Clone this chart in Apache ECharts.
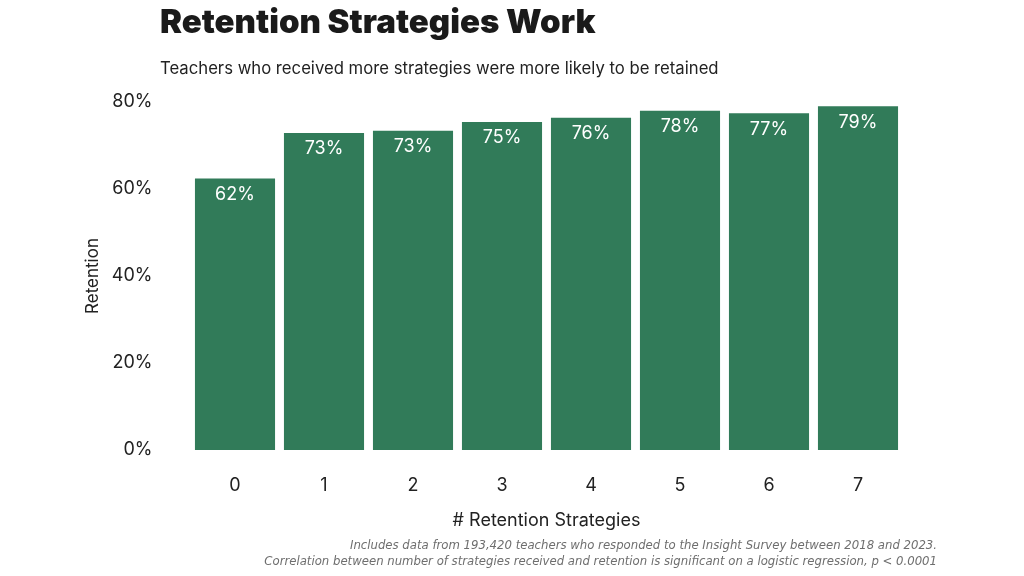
<!DOCTYPE html>
<html><head><meta charset="utf-8">
<script src="https://cdn.jsdelivr.net/npm/echarts@6/dist/echarts.min.js"></script>
<style>html,body{margin:0;padding:0;background:#fff}#c{width:1024px;height:576px}</style>
</head><body><div id="c"></div>
<script>
const categories = ['0','1','2','3','4','5','6','7'];
const retention = [62.4, 72.9, 73.4, 75.4, 76.4, 78.0, 77.4, 79.0];
const yTicks = [0, 20, 40, 60, 80];
const titleText = 'Retention Strategies Work';
const subtitleText = 'Teachers who received more strategies were more likely to be retained';
const noteLines = ['Includes data from 193,420 teachers who responded to the Insight Survey between 2018 and 2023.',
  'Correlation between number of strategies received and retention is significant on a logistic regression, p < 0.0001'];

const noteFont = 'italic 400 13px "Liberation Sans Narrow", "DejaVu Sans Condensed", sans-serif';
const chart = echarts.init(document.getElementById('c'));
chart.setOption({
  animation: false,
  backgroundColor: '#fff',
  title: [{
    text: titleText, left: 155, top: 2,
    textStyle: {fontFamily: 'Inter', fontWeight: 900, fontSize: 33, color: '#1a1a1a'}
  }, {
    text: subtitleText, left: 155, top: 55,
    textStyle: {fontFamily: 'Inter', fontWeight: 400, fontSize: 16.7, color: '#222'}
  }],
  graphic: noteLines.map((t, i) => ({
    type: 'text', right: 87, top: 539 + i * 16,
    style: {text: t, font: noteFont, fill: '#6e6e6e'}
  })),
  grid: {left: 190.5, right: 121.5, top: 102, bottom: 126, containLabel: false},
  xAxis: {
    type: 'category', data: categories,
    axisLine: {show: false}, axisTick: {show: false},
    axisLabel: {fontFamily: 'Inter', fontSize: 18, color: '#222', margin: 27},
    name: '# Retention Strategies', nameLocation: 'middle', nameGap: 62,
    nameTextStyle: {fontFamily: 'Inter', fontSize: 18, color: '#222'}
  },
  yAxis: {
    type: 'value', min: 0, max: 80, interval: 20,
    splitLine: {show: false}, axisLine: {show: false}, axisTick: {show: false},
    axisLabel: {fontFamily: 'Inter', fontSize: 18, color: '#222', margin: 38,
      formatter: v => yTicks.includes(v) ? v + '%' : ''},
    name: 'Retention', nameLocation: 'middle', nameGap: 89, nameRotate: 90,
    nameTextStyle: {fontFamily: 'Inter', fontSize: 17, color: '#222'}
  },
  series: [{
    type: 'bar', data: retention, barCategoryGap: '10%',
    itemStyle: {color: '#317b59'},
    label: {show: true, position: 'insideTop', distance: 7,
      formatter: p => Math.round(p.value) + '%',
      fontFamily: 'Inter', fontSize: 18, color: '#fff'}
  }]
});
</script></body></html>
